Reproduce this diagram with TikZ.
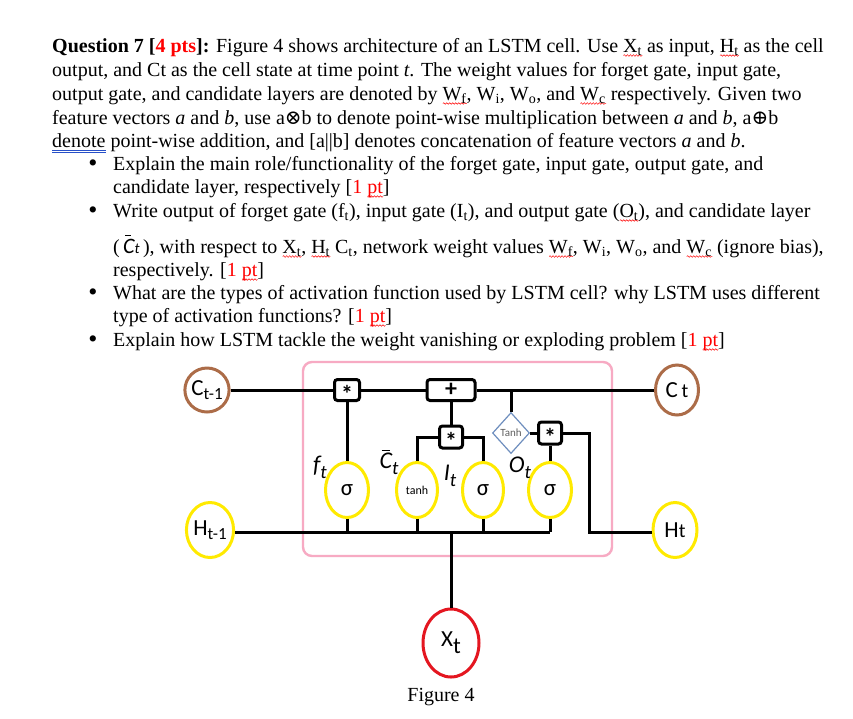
\documentclass[tikz,border=0pt]{standalone}
\usepackage{fontspec}
\setmainfont{Liberation Serif}
\newfontfamily\calibri{Carlito}
\newfontfamily\opglyphs{DejaVu Serif}
\usetikzlibrary{positioning,shapes.geometric,calc,decorations.pathmorphing}
\definecolor{cellpink}{RGB}{247,170,195}
\definecolor{stateBrown}{RGB}{172,108,72}
\definecolor{gateYellow}{RGB}{255,234,0}
\definecolor{inputRed}{RGB}{228,22,32}
\definecolor{tanhBlue}{RGB}{110,142,190}
\definecolor{tanhGray}{RGB}{95,95,95}
\definecolor{grammarBlue}{RGB}{40,80,200}

\newlength{\marklen}
\newcommand{\wav}[1]{\settowidth{\marklen}{#1}\makebox[0pt][l]{\tikz[baseline=0pt]\draw[red, line width=0.5pt, decorate, decoration={snake, amplitude=0.8pt, segment length=3pt}] (0pt,-3.5pt) -- (\marklen,-3.5pt);}#1}
\newcommand{\onept}{{\color{red}1 \wav{pt}}}
\newcommand{\sbs}[1]{\textsubscript{#1}}
\newcommand{\grammarmark}[1]{\settowidth{\marklen}{#1}\makebox[0pt][l]{\color{grammarBlue}\rule[-3.5pt]{\marklen}{0.6pt}\kern-\marklen\rule[-5.5pt]{\marklen}{0.6pt}}#1}
\newcommand{\opstar}{\raisebox{-12.5pt}[0pt][0pt]{*}}

\begin{document}
\begin{tikzpicture}[x=1pt, y=-1pt, >=latex,
		textLine/.style={anchor=base west, inner sep=0pt, font=\fontsize{20}{22}\selectfont},
		bulletMark/.style={anchor=base, inner sep=0pt, font=\fontsize{26}{26}\selectfont},
		wireLine/.style={line width=3pt, color=black},
		cellFrame/.style={draw=cellpink, line width=2.4pt, rounded corners=9pt},
		stateNode/.style={ellipse, line width=3pt, inner sep=0pt, fill=white, font=\calibri\fontsize{23}{23}\selectfont},
		gateNode/.style={ellipse, draw=gateYellow, line width=3pt, inner sep=0pt, fill=white, minimum width=43pt, minimum height=55pt, font=\calibri\fontsize{23}{23}\selectfont},
		opBox/.style={draw=black, rounded corners=3pt, line width=3pt, fill=white, inner sep=0pt, font=\calibri\bfseries\fontsize{24}{24}\selectfont},
		gateLabel/.style={inner sep=0pt, font=\calibri\itshape\fontsize{24}{24}\selectfont}
		]
	\fill[white] (0,0) rectangle (853,718);
	\useasboundingbox (0,0) rectangle (853,718);
	
	% question text
	\node[textLine] (l1) at (52,52) {\textbf{Question 7 [}{\color{red}\textbf{4 pts}}\textbf{]:} Figure 4 shows architecture of an LSTM cell. Use \wav{X\sbs{t}} as input, \wav{H\sbs{t}} as the cell};
	\node[textLine] (l2) at (52,76) {output, and Ct as the cell state at time point \textit{t}. The weight values for forget gate, input gate,};
	\node[textLine] (l3) at (52,100) {output gate, and candidate layers are denoted by \wav{W\sbs{f}}, W\sbs{i}, W\sbs{o}, and \wav{W\sbs{c}} respectively. Given two};
	\node[textLine] (l4) at (52,124) {feature vectors \textit{a} and \textit{b}, use a{\opglyphs ⊗}b to denote point-wise multiplication between \textit{a} and \textit{b}, a{\opglyphs ⊕}b};
	\node[textLine] (l5) at (52,147) {\grammarmark{denote} point-wise addition, and [a||b] denotes concatenation of feature vectors \textit{a} and \textit{b}.};
	
	\node[bulletMark] (b1) at (93,171) {\textbullet};
	\node[textLine] (l6) at (113,170) {Explain the main role/functionality of the forget gate, input gate, output gate, and};
	\node[textLine] (l7) at (113,193) {candidate layer, respectively [\onept]};
	\node[bulletMark] (b2) at (93,218) {\textbullet};
	\node[textLine] (l8) at (113,217) {Write output of forget gate (f\sbs{t}), input gate (I\sbs{t}), and output gate (\wav{O\sbs{t}}), and candidate layer};
	\node[textLine] (l9) at (113,253) {(\,\makebox[0pt][l]{\hspace{2pt}\raisebox{17pt}{\rule{6pt}{1.3pt}}}{\calibri\itshape\fontsize{22}{22}\selectfont C}{\calibri\itshape\fontsize{15}{15}\selectfont t}\,), with respect to \wav{X\sbs{t}}, \wav{H\sbs{t}} C\sbs{t}, network weight values \wav{W\sbs{f}}, W\sbs{i}, W\sbs{o}, and \wav{W\sbs{c}} (ignore bias),};
	\node[textLine] (l10) at (113,276) {respectively. [\onept]};
	\node[bulletMark] (b3) at (93,300) {\textbullet};
	\node[textLine] (l11) at (113,299) {What are the types of activation function used by LSTM cell? why LSTM uses different};
	\node[textLine] (l12) at (113,322) {type of activation functions? [\onept]};
	\node[bulletMark] (b4) at (93,347) {\textbullet};
	\node[textLine] (l13) at (113,346) {Explain how LSTM tackle the weight vanishing or exploding problem [\onept]};
	
	% LSTM cell
	\draw[cellFrame] (303,362) rectangle (612,556);
	
	\node[stateNode, draw=stateBrown, minimum width=43pt, minimum height=44pt] (cPrev) at (207,390) {C\raisebox{-4pt}{\fontsize{17}{17}\selectfont t-1}};
	\node[stateNode, draw=stateBrown, minimum width=43pt, minimum height=50pt] (cNext) at (677,390) {C\,{\fontsize{20}{20}\selectfont t}};
	\node[stateNode, draw=gateYellow, minimum width=47pt, minimum height=55pt] (hPrev) at (210,530) {H\raisebox{-4pt}{\fontsize{17}{17}\selectfont t-1}};
	\node[stateNode, draw=gateYellow, minimum width=44pt, minimum height=55pt] (hNext) at (675,530) {H{\fontsize{20}{20}\selectfont t}};
	\node[stateNode, draw=inputRed, minimum width=56pt, minimum height=68pt] (xIn) at (451,643) {X\raisebox{-7pt}{t}};
	
	\node[gateNode] (sigF) at (347,490) {σ};
	\node[gateNode, minimum width=41pt, font=\calibri\fontsize{12}{12}\selectfont] (candT) at (417,490) {tanh};
	\node[gateNode, minimum width=41pt] (sigI) at (483,490) {σ};
	\node[gateNode] (sigO) at (550,490) {σ};
	
	\node[opBox, minimum width=25pt, minimum height=21pt] (mulF) at (347,390) {\opstar};
	\node[opBox, minimum width=48pt, minimum height=21pt] (addC) at (451,390) {+};
	\node[opBox, minimum width=23pt, minimum height=22pt] (mulI) at (451,437) {\opstar};
	\node[opBox, minimum width=23pt, minimum height=22pt] (mulO) at (550,433) {\opstar};
	\node[diamond, draw=tanhBlue, line width=1.2pt, fill=white, inner sep=0pt, minimum width=37pt, minimum height=41pt, text=tanhGray, font=\calibri\fontsize{11}{11}\selectfont] (tanhC) at (511,433) {Tanh};
	
	\node[gateLabel] (fLbl) at (320,467) {f\raisebox{-6pt}{\fontsize{19}{19}\selectfont t}};
	\node[gateLabel] (cLbl) at (389,462) {\makebox[0pt][l]{\hspace{2pt}\raisebox{17pt}{\rule{8pt}{1.4pt}}}C\raisebox{-6pt}{\fontsize{19}{19}\selectfont t}};
	\node[gateLabel] (iLbl) at (450,476) {I\raisebox{-6pt}{\fontsize{19}{19}\selectfont t}};
	\node[gateLabel] (oLbl) at (520,468) {O\raisebox{-6pt}{\fontsize{19}{19}\selectfont t}};
	
	\coordinate (outBend) at (589,532);
	
	\draw[wireLine] (cPrev) -- (mulF);
	\draw[wireLine] (mulF) -- (addC);
	\draw[wireLine] (addC) -- (cNext);
	\draw[wireLine] (tanhC.north |- addC) -- (tanhC);
	\draw[wireLine] (tanhC) -- (mulO);
	\draw[wireLine] (mulF) -- (sigF);
	\draw[wireLine] (addC) -- (mulI);
	\draw[wireLine] (candT) |- (mulI);
	\draw[wireLine] (sigI) |- (mulI);
	\draw[wireLine] (mulO) -- (sigO);
	\draw[wireLine] (mulO) -| (outBend) -- (hNext.west |- outBend);
	\draw[wireLine] (hPrev.east |- outBend) -- (sigO |- outBend);
	\foreach \g in {sigF,candT,sigI,sigO}
		\draw[wireLine] (\g) -- (\g |- outBend);
	\draw[wireLine] (xIn) -- (xIn |- outBend);
	
	\node[inner sep=0pt, font=\fontsize{20}{22}\selectfont] (figCap) at (441,697) {Figure 4};
\end{tikzpicture}
\end{document}
